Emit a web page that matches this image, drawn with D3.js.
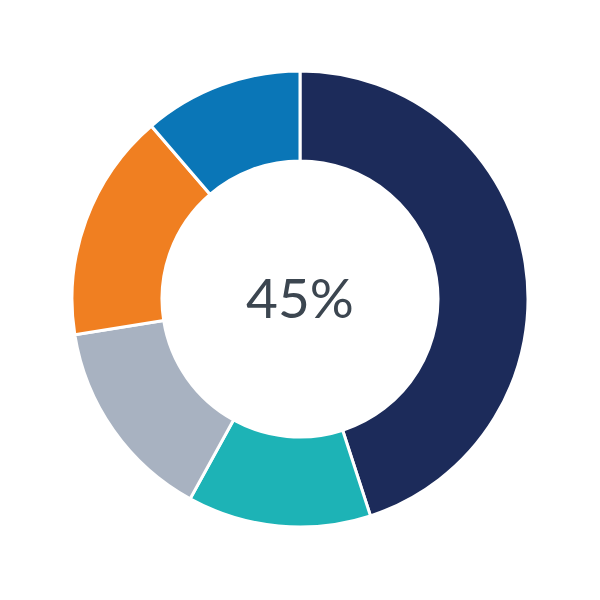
<!DOCTYPE html>
<html lang="en">
<head>
  <meta charset="UTF-8">
  <title>donut</title>
  <script src="https://cdn.jsdelivr.net/npm/d3@7"></script>
  <style>
    body { margin: 0; background: #fff; }
  </style>
</head>
<body>
  <svg width="600" height="600"></svg>
  <script>
    // slice data, clockwise from 12 o'clock
    var categories = ['A', 'B', 'C', 'D', 'E']
    var values = [45, 13, 14.5, 16.2, 11.3]
    var colors = ['#1c2b5a', '#1db3b6', '#a8b2c1', '#f07f21', '#0a76b7']
    var centerLabel = '45%'

    var svg = d3.select('svg')
    var g = svg.append('g')
      .attr('transform', 'translate(300,299)')

    var pie = d3.pie()
      .sort(null)
      .value(d => d.value)

    var arc = d3.arc()
      .innerRadius(138)
      .outerRadius(228)

    var data = categories.map((c, i) => ({ name: c, value: values[i] }))

    var color = d3.scaleOrdinal()
      .domain(categories)
      .range(colors)

    g.selectAll('path')
      .data(pie(data))
      .enter()
      .append('path')
      .attr('d', arc)
      .attr('fill', d => color(d.data.name))
      .attr('stroke', '#fff')
      .attr('stroke-width', 3)

    g.append('text')
      .attr('text-anchor', 'middle')
      .attr('dy', '0.35em')
      .attr('font-family', 'Lato, "Open Sans", sans-serif')
      .attr('font-size', 55)
      .attr('fill', '#3c4650')
      .text(centerLabel)
  </script>
</body>
</html>
